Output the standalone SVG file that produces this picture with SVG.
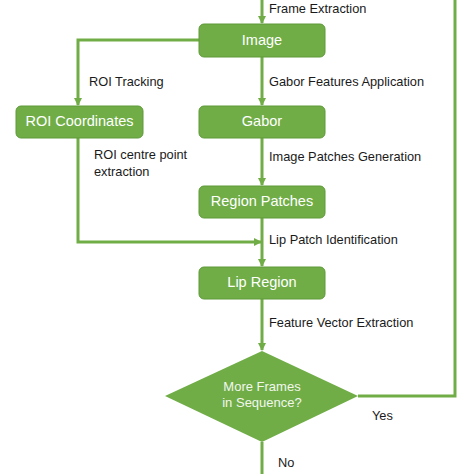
<svg xmlns="http://www.w3.org/2000/svg" width="474" height="474" viewBox="0 0 474 474">
<style>
.box{fill:#70AD47;stroke:#5E9A38;stroke-width:1}
.nt{font-family:"Liberation Sans",Arial,sans-serif;font-size:14.5px;fill:#fff;text-anchor:middle}
.dt{font-family:"Liberation Sans",Arial,sans-serif;font-size:13px;fill:#F2F7EE;text-anchor:middle}
.lb{font-family:"Liberation Sans",Arial,sans-serif;font-size:12.8px;fill:#1a1a1a}
.ln{fill:none;stroke:#70AD47;stroke-width:3}
</style>
<defs>
<marker id="ah" markerWidth="8" markerHeight="8" refX="7" refY="4" orient="auto" markerUnits="userSpaceOnUse">
<path d="M0,0 L8,4 L0,8 Z" fill="#70AD47"/>
</marker>
</defs>
<rect width="474" height="474" fill="#fff"/>
<g id="connectors">
<path class="ln" d="M262,0 V23" marker-end="url(#ah)"/>
<path class="ln" d="M455,0 V396 H358"/>
<path class="ln" d="M199,40 H78 V105" marker-end="url(#ah)"/>
<path class="ln" d="M262,57 V105" marker-end="url(#ah)"/>
<path class="ln" d="M262,138 V185" marker-end="url(#ah)"/>
<path class="ln" d="M78,138 V242 H261" marker-end="url(#ah)"/>
<path class="ln" d="M262,218 V266" marker-end="url(#ah)"/>
<path class="ln" d="M262,299 V350" marker-end="url(#ah)"/>
<path class="ln" d="M262,442 V474"/>
</g>
<g id="labels">
<text class="lb" x="269" y="13">Frame Extraction</text>
<text class="lb" x="89" y="86">ROI Tracking</text>
<text class="lb" x="269" y="86">Gabor Features Application</text>
<text class="lb" x="94" y="159">ROI centre point</text>
<text class="lb" x="94" y="176">extraction</text>
<text class="lb" x="269" y="161">Image Patches Generation</text>
<text class="lb" x="269" y="244">Lip Patch Identification</text>
<text class="lb" x="269" y="327">Feature Vector Extraction</text>
<text class="lb" x="372" y="420">Yes</text>
<text class="lb" x="278" y="467">No</text>
</g>
<g id="image"><rect class="box" x="199" y="24" width="126" height="33" rx="5"/><text class="nt" x="262" y="44.5">Image</text></g>
<g id="roi"><rect class="box" x="16" y="106" width="127" height="32" rx="5"/><text class="nt" x="79.5" y="125.5">ROI Coordinates</text></g>
<g id="gabor"><rect class="box" x="199" y="106" width="126" height="32" rx="5"/><text class="nt" x="262" y="125.5">Gabor</text></g>
<g id="patches"><rect class="box" x="199" y="186" width="126" height="32" rx="5"/><text class="nt" x="262" y="205.5">Region Patches</text></g>
<g id="lip"><rect class="box" x="199" y="267" width="126" height="32" rx="5"/><text class="nt" x="262" y="286.5">Lip Region</text></g>
<g id="decision"><path d="M262,351 L358,396 L262,442 L165,396 Z" fill="#70AD47"/><text class="dt" x="262" y="391">More Frames</text><text class="dt" x="262" y="407">in Sequence?</text></g>
</svg>
